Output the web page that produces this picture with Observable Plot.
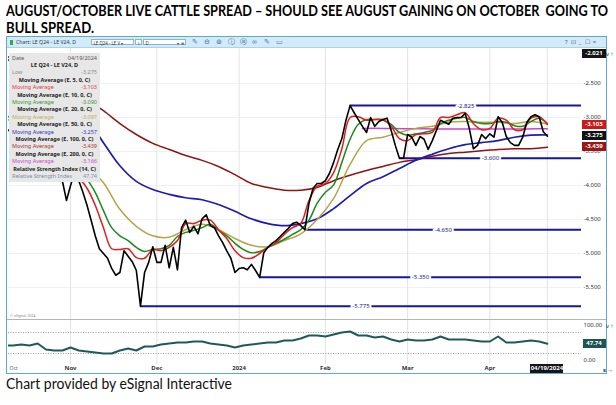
<!DOCTYPE html>
<html><head><meta charset="utf-8">
<script src="https://cdn.jsdelivr.net/npm/d3@7"></script>
<script src="https://cdn.jsdelivr.net/npm/@observablehq/plot@0.6"></script>
<style>
html,body{margin:0;padding:0;background:#fff}
#root{position:relative;width:616px;height:405px;overflow:hidden;font-family:"Noto Sans",sans-serif}
.a{position:absolute}
.win{left:6px;top:36px;width:599px;height:336px;border:1px solid #5aaae0;background:#fff}
.tb{left:7px;top:37px;width:599px;height:10px;background:#d3ebf8;border-bottom:1px solid #a9d2ec;font-size:5.2px;line-height:10px;color:#2d3b46;white-space:nowrap}
.inp{position:absolute;top:1.5px;height:6px;background:#fff;border:0.5px solid #8fb3cc;font-size:4.4px;line-height:6px;padding-left:1.5px;box-sizing:border-box;color:#333}
.ico{position:absolute;top:0;font-size:7px;line-height:10px;color:#3d6f9c}
.box{position:absolute;color:#fff;font-size:6px;font-weight:700;text-align:center;height:9px;line-height:9px}
.leg{left:9px;top:53px;width:91px;height:129px;background:#e7e7e7;font-size:5.5px;line-height:7.4px;padding-top:1.5px;box-sizing:border-box}
.leg .r{display:flex;justify-content:space-between;padding:0 3px;white-space:nowrap}
.leg .c{text-align:center;font-weight:700;color:#1b1b1b;white-space:nowrap}
</style></head><body><div id="root"></div>
<script>
// ---------- DATA (session index: 04/19/2024 = 0, trading days) ----------
const closeStart = -131;
const closeVals = [
 -3.19,-3.25,-3.31,-3.34,-3.41,-3.46,-3.51,-3.56,-3.63,-3.60,
 -3.71,-3.75,-3.81,-3.93,-4.22,-4.00,-3.81,-3.93,-4.10,-4.29,
 -4.51,-4.74,-4.93,-5.00,-5.07,-5.22,-5.32,-5.28,-4.96,-5.04,
 -5.12,-5.25,-5.775,-5.28,-5.13,-4.90,-5.13,-5.13,-4.88,-5.21,
 -4.91,-5.24,-4.62,-4.51,-4.69,-4.60,-4.71,-4.49,-4.43,-4.59,
 -4.62,-4.74,-4.84,-4.96,-5.07,-5.28,-5.22,-5.21,-5.24,-5.16,
 -5.25,-5.35,-4.99,-4.91,-4.85,-4.81,-4.75,-4.69,-4.63,-4.56,
 -4.54,-4.59,-4.65,-4.26,-4.04,-3.97,-3.97,-3.93,-3.82,-3.66,
 -3.47,-3.31,-3.04,-2.825,-2.93,-3.03,-3.13,-3.22,-3.00,-3.13,
 -3.06,-3.03,-3.01,-3.19,-3.41,-3.60,-3.60,-3.25,-3.29,-3.41,
 -3.28,-3.32,-3.47,-3.34,-3.19,-3.04,-3.07,-3.10,-3.01,-3.00,
 -3.00,-2.94,-3.16,-3.46,-3.41,-3.25,-3.31,-3.24,-3.29,-2.99,
 -3.07,-3.28,-3.37,-3.41,-3.41,-3.29,-3.07,-2.99,-2.96,-2.99,
 -3.21,-3.275];
// moving averages sampled every 2 sessions from -132
const ma5Vals = [
 -3.16,-3.22,-3.29,-3.37,-3.46,-3.53,-3.63,-3.74,-3.90,-3.90,
 -4.04,-4.29,-4.62,-4.93,-4.94,-4.93,-5.06,-5.07,-4.94,-4.96,
 -4.91,-4.81,-4.56,-4.56,-4.51,-4.51,-4.65,-4.78,-4.96,-5.06,
 -5.07,-5.00,-4.91,-4.84,-4.72,-4.62,-4.56,-4.22,-4.01,-3.97,
 -3.81,-3.46,-3.00,-2.99,-3.04,-3.03,-3.03,-3.13,-3.31,-3.34,
 -3.25,-3.24,-3.22,-3.00,-3.00,-2.96,-2.93,-3.09,-3.18,-3.16,
 -3.01,-3.04,-3.18,-3.18,-3.01,-2.99,-3.103];
const ma10Vals = [
 -2.97,-3.01,-3.07,-3.13,-3.19,-3.26,-3.34,-3.43,-3.53,-3.66,
 -3.90,-4.10,-4.37,-4.62,-4.74,-4.81,-4.91,-4.97,-4.94,-4.93,
 -4.88,-4.75,-4.69,-4.66,-4.62,-4.57,-4.66,-4.74,-4.85,-4.94,
 -4.99,-4.97,-4.91,-4.85,-4.79,-4.72,-4.65,-4.51,-4.26,-4.10,
 -3.99,-3.66,-3.32,-3.10,-3.03,-3.03,-3.04,-3.10,-3.22,-3.26,
 -3.24,-3.22,-3.19,-3.09,-3.04,-3.01,-3.00,-3.06,-3.09,-3.09,
 -3.06,-3.07,-3.12,-3.13,-3.06,-3.01,-3.090];
// sampled every 4 sessions from -132
const ma20Vals = [
 -3.01,-3.13,-3.28,-3.43,-3.56,-3.71,-3.96,-4.35,-4.60,-4.74,
 -4.76,-4.65,-4.57,-4.65,-4.78,-4.88,-4.90,-4.81,-4.71,-4.50,
 -4.19,-3.69,-3.34,-3.29,-3.22,-3.16,-3.13,-3.07,-3.06,-3.07,
 -3.07,-3.09,-3.06,-3.097];
const ma50Vals = [
 -2.13,-2.25,-2.40,-2.57,-2.76,-3.01,-3.37,-3.71,-3.94,-4.06,
 -4.13,-4.18,-4.21,-4.28,-4.38,-4.49,-4.56,-4.59,-4.56,-4.49,
 -4.34,-4.15,-3.97,-3.87,-3.75,-3.63,-3.54,-3.46,-3.40,-3.37,
 -3.34,-3.29,-3.26,-3.257];
const ma100Vals = [
 -2.09,-2.19,-2.31,-2.46,-2.59,-2.74,-2.90,-3.09,-3.25,-3.38,
 -3.47,-3.56,-3.63,-3.72,-3.84,-3.97,-4.03,-4.07,-4.07,-4.03,
 -3.93,-3.85,-3.78,-3.72,-3.66,-3.62,-3.57,-3.53,-3.51,-3.49,
 -3.47,-3.46,-3.46,-3.439];
// sampled every 5 sessions from -45
const ma200Vals = [-3.16,-3.16,-3.165,-3.165,-3.17,-3.17,-3.17,-3.17,-3.168,-3.166];
// RSI(14) sampled every 2 sessions from -132
const rsiVals = [
 42.9,42.9,45.7,42.9,48.6,31.4,28.6,28.6,37.1,28.6,
 25.7,22.9,20.0,20.0,28.6,34.3,28.6,40.0,40.0,45.7,
 48.6,51.4,51.4,54.3,54.3,48.6,45.7,42.9,37.1,42.9,
 45.7,48.6,51.4,51.4,57.1,57.1,62.9,71.4,71.4,68.6,
 74.3,80.0,82.9,71.4,71.4,65.7,68.6,60.0,54.3,60.0,
 57.1,57.1,60.0,68.6,60.0,60.0,60.0,57.1,54.3,54.3,
 68.6,51.4,51.4,54.3,57.1,54.3,47.74];
const levelVals = [-2.825, -3.600, -4.650, -5.350, -5.775];
const levelStartSessions = [-48, -36, -59, -70, -99];
const monthTickSessions = [-116, -95, -75, -54, -34, -14];
const monthTickLabels = ["Nov", "Dec", "2024", "Feb", "Mar", "Apr"];
const priceTicks = [-2.5, -3.0, -3.5, -4.0, -4.5, -5.0, -5.5];
const rsiTicks = [0, 100];
const rsiBands = [80, 20];
const lastDateLabel = "04/19/2024";
const scaleTopValue = -2.021;

// ---------- BUILD ----------
const ser = (vals, start, step) => vals.map((v, i) => ({s: start + i * step, v}));
const closeData = ser(closeVals, closeStart, 1);
const ma5 = ser(ma5Vals, -132, 2), ma10 = ser(ma10Vals, -132, 2);
const ma20 = ser(ma20Vals, -132, 4), ma50 = ser(ma50Vals, -132, 4), ma100 = ser(ma100Vals, -132, 4);
const ma200 = ser(ma200Vals, -45, 5);
const rsiData = ser(rsiVals, -132, 2);
const levels = levelVals.map((v, i) => ({v, start: levelStartSessions[i]}));
const last = a => a[a.length - 1];

const X0 = -131.1, X1 = 8.3;
const FONT = "Noto Sans";
const C = {close:"#000", ma5:"#e41d1d", ma10:"#1b8a1b", ma20:"#b5a547", ma50:"#1c1cb4", ma100:"#8e1414", ma200:"#cc44cc", level:"#17179c", rsi:"#1f5a5a"};

const root = document.getElementById("root");
root.innerHTML = `
<svg class="a" style="left:0;top:0" width="616" height="36">
 <text x="6" y="16" font-family="Lato" font-weight="700" font-size="15.5" fill="#000" textLength="602" lengthAdjust="spacingAndGlyphs" style="white-space:pre">AUGUST/OCTOBER LIVE CATTLE SPREAD – SHOULD SEE AUGUST GAINING ON OCTOBER  GOING TO</text>
 <text x="6" y="33" font-family="Lato" font-weight="700" font-size="15.5" fill="#000" textLength="88" lengthAdjust="spacingAndGlyphs">BULL SPREAD.</text>
</svg>
<div class="a win"></div>
<div class="a tb">
 <span style="position:absolute;left:3px;top:2.5px;width:3px;height:5px;background:#3aa845"></span>
 <span style="position:absolute;left:9px;">Chart: LE Q24 - LE V24, D</span>
 <div class="inp" style="left:84px;width:43px">LE Q24 - LE V ▾</div>
 <div class="inp" style="left:128px;width:7px">≡</div>
 <div class="inp" style="left:136px;width:43px">D<span style="position:absolute;right:6px">▾</span><span style="position:absolute;right:1px">⊕</span></div>
 <span class="ico" style="left:185px">✎</span><span class="ico" style="left:197px">⊖</span><span class="ico" style="left:209px">⊛</span>
 <span class="ico" style="left:221px">ⓘ</span><span class="ico" style="left:233px">ⓐ</span><span class="ico" style="left:245px">∞</span>
 <span class="ico" style="left:257px">✎</span><span class="ico" style="left:269px">▭</span>
 <span style="position:absolute;left:558px;font-size:6px;color:#556">?&nbsp;&nbsp;⊡&nbsp;&nbsp;_&nbsp;&nbsp;☐&nbsp;&nbsp;×</span>
</div>
<div class="a" style="left:7px;top:319px;width:599px;height:1px;background:#b5b5b5"></div>
<svg class="a" style="left:0;top:0" width="616" height="405">
 <text x="10" y="317" font-family="${FONT}" font-size="3.6" fill="#888">© eSignal 2024</text>
 <text x="6" y="389" font-family="Lato" font-size="14.5" fill="#111" textLength="226" lengthAdjust="spacingAndGlyphs">Chart provided by eSignal Interactive</text>
</svg>`;

const lineMark = (data, color, w, curve) => Plot.line(data, {x: "s", y: "v", stroke: color, strokeWidth: w, clip: true, curve: curve || "linear", strokeLinejoin: "round"});

const main = Plot.plot({
  width: 616, height: 271,
  marginLeft: 8, marginRight: 35, marginTop: 0, marginBottom: 0,
  x: {domain: [X0, X1], axis: null},
  y: {domain: [-5.9706, -1.9853]},
  style: {fontFamily: FONT, background: "transparent", overflow: "visible"},
  marks: [
    Plot.ruleY(priceTicks, {stroke: "#f0f0f0"}),
    Plot.ruleX([...monthTickSessions, 0], {stroke: "#e3e3e3"}),
    Plot.axisY({anchor: "right", ticks: priceTicks, tickFormat: d => d.toFixed(3), tickSize: 0, tickPadding: 2, fontSize: 6, color: "#333"}),
    Plot.ruleY(levels, {y: "v", x1: "start", x2: X1, stroke: C.level, strokeWidth: 2}),
    Plot.text(levels, {x: d => (d.start + X1) / 2, y: "v", text: d => d.v.toFixed(3), fill: C.level, stroke: "white", strokeWidth: 4, fontSize: 6}),
    lineMark(ma100, C.ma100, 1.5, "catmull-rom"),
    lineMark(ma50, C.ma50, 1.7, "catmull-rom"),
    lineMark(ma200, C.ma200, 1.5, "catmull-rom"),
    lineMark(ma20, C.ma20, 1.5, "catmull-rom"),
    lineMark(ma10, C.ma10, 1.5, "catmull-rom"),
    lineMark(ma5, C.ma5, 1.5, "catmull-rom"),
    lineMark(closeData, C.close, 1.6)
  ]
});
main.style.position = "absolute"; main.style.left = "0px"; main.style.top = "48px";
root.appendChild(main);

const labelOf = new Map(monthTickSessions.map((s, i) => [s, monthTickLabels[i]]));
const rsiPlot = Plot.plot({
  width: 616, height: 54,
  marginLeft: 8, marginRight: 35, marginTop: 0, marginBottom: 10,
  x: {domain: [X0, X1]},
  y: {domain: [-11.43, 114.29]},
  style: {fontFamily: FONT, background: "transparent", overflow: "visible"},
  marks: [
    Plot.ruleX([...monthTickSessions, 0], {stroke: "#e3e3e3"}),
    Plot.ruleY(rsiBands, {stroke: "#9a9a9a", strokeDasharray: "1,1.5"}),
    lineMark(rsiData, C.rsi, 2),
    Plot.axisY({anchor: "right", ticks: rsiTicks, tickFormat: d => d.toFixed(2), tickSize: 0, tickPadding: 2, fontSize: 6, color: "#333"}),
    Plot.axisX({ticks: monthTickSessions, tickFormat: d => labelOf.get(d), tickSize: 0, tickPadding: 1.5, fontSize: 6, fontWeight: "bold", color: "#333"}),
    Plot.text(["Oct"], {x: X0, y: -11.43, text: d => d, textAnchor: "start", lineAnchor: "top", dx: 1, dy: 1.5, fontSize: 5, fill: "#666"})
  ]
});
rsiPlot.style.position = "absolute"; rsiPlot.style.left = "0px"; rsiPlot.style.top = "320px";
root.appendChild(rsiPlot);

// ---------- overlays positioned through the Plot scales ----------
const yMain = v => 48 + main.scale("y").apply(v);
const yRsi = v => 320 + rsiPlot.scale("y").apply(v);
const xMain = s => main.scale("x").apply(s);
function addBox(text, cx, cy, w, bg) {
  const b = document.createElement("div");
  b.className = "box"; b.textContent = text;
  b.style.left = (cx - w / 2) + "px"; b.style.top = (cy - 4.5) + "px"; b.style.width = w + "px"; b.style.background = bg;
  root.appendChild(b);
}
addBox(scaleTopValue.toFixed(3), 594, Math.max(yMain(scaleTopValue), 48 + 5.5), 24, "#151515");
const boxes = [
  {v: last(ma5Vals), bg: "#d01818"},
  {v: last(closeVals), bg: "#121212"},
  {v: last(ma100Vals), bg: "#9b1717"}
].map(d => ({...d, y: yMain(d.v)})).sort((a, b) => a.y - b.y);
for (let i = 1; i < boxes.length; i++) if (boxes[i].y - boxes[i - 1].y < 10) boxes[i].y = boxes[i - 1].y + 10;
boxes.forEach(d => addBox(d.v.toFixed(3), 594, d.y, 24, d.bg));
addBox(last(rsiVals).toFixed(2), 594, yRsi(last(rsiVals)), 23, "#1d5555");
addBox(lastDateLabel, xMain(0), 368, 33, "#151515");

// data window legend
const leg = document.createElement("div");
leg.className = "a leg";
const defs = [
  {n: 5, vals: ma5Vals, col: "#e23a3a"}, {n: 10, vals: ma10Vals, col: "#2e9a2e"},
  {n: 20, vals: ma20Vals, col: "#bcae5e"}, {n: 50, vals: ma50Vals, col: "#3434c4"},
  {n: 100, vals: ma100Vals, col: "#a83030"}, {n: 200, vals: ma200Vals, col: "#c94ac9"}
];
let html = `<div class="r" style="color:#555"><span>Date</span><span>${lastDateLabel}</span></div>
<div class="c">LE Q24 - LE V24, D</div>
<div class="r" style="color:#8a8a8a"><span>Low</span><span>${last(closeVals).toFixed(3)}</span></div>`;
defs.forEach(d => {
  html += `<div class="c">Moving Average (E, ${d.n}, 0, C)</div>
  <div class="r" style="color:${d.col}"><span>Moving Average</span><span>${last(d.vals).toFixed(3)}</span></div>`;
});
html += `<div class="c">Relative Strength Index (14, C)</div>
<div class="r" style="color:#7890a4"><span>Relative Strength Index</span><span>${last(rsiVals).toFixed(2)}</span></div>`;
leg.innerHTML = html;
root.appendChild(leg);
</script>
</body></html>
